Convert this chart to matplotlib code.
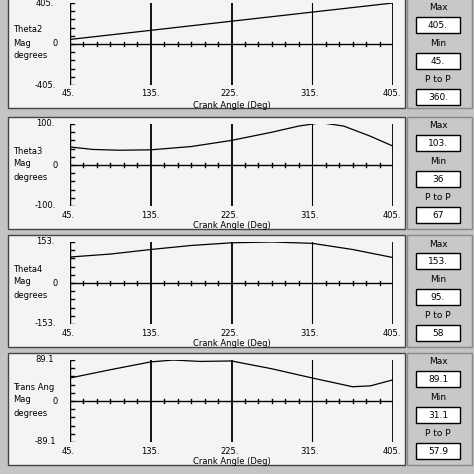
import numpy as np
import matplotlib
matplotlib.use("Agg")
import matplotlib.pyplot as plt
from matplotlib.patches import Rectangle

x_theta2 = [45, 405]
y_theta2 = [45, 405]
x_theta3 = [45, 70, 100, 135, 180, 225, 270, 300, 325, 350, 380, 405]
y_theta3 = [44, 38, 36, 37, 45, 60, 80, 95, 103, 95, 70, 46]
x_theta4 = [45, 90, 135, 180, 225, 270, 315, 360, 405]
y_theta4 = [97, 108, 125, 140, 150, 153, 148, 125, 95]
x_trans = [45, 90, 135, 160, 190, 225, 270, 315, 360, 380, 405]
y_trans = [50, 68, 85, 89, 86, 87, 70, 50, 31, 33, 46]

labels = [["Theta2", "Mag", "degrees"], ["Theta3", "Mag", "degrees"],
          ["Theta4", "Mag", "degrees"], ["Trans Ang", "Mag", "degrees"]]
limits = ["405.", "100.", "153.", "89.1"]
lim_vals = [405, 100, 153, 89.1]
stats = [["405.", "45.", "360."], ["103.", "36", "67"], ["153.", "95.", "58"], ["89.1", "31.1", "57.9"]]
xticklabels = ["45.", "135.", "225.", "315.", "405."]
series = [(x_theta2, y_theta2), (x_theta3, y_theta3), (x_theta4, y_theta4), (x_trans, y_trans)]

W = H = 474
fig = plt.figure(figsize=(4.74, 4.74), dpi=100)
fig.patch.set_facecolor("#c4c4c4")

def fx(p): return p / W
def fy(p): return 1 - p / H

tops = [-6, 115, 233, 351]
ph = 118
for i in range(4):
    t = tops[i]
    fig.patches.append(Rectangle((fx(8), fy(t + ph - 4)), fx(397), (ph - 6) / H,
                                 transform=fig.transFigure, facecolor="#f4f4f4",
                                 edgecolor="#444444", lw=1, zorder=-5))
    zero = t + 50
    half = 41
    ax = fig.add_axes([fx(70), fy(zero + half), fx(323), 2 * half / H])
    ax.set_xlim(45, 405)
    L = lim_vals[i]
    ax.set_ylim(-L, L)
    ax.axis("off")
    ax.plot([45, 405], [0, 0], color="black", lw=1)
    for xt in range(60, 405, 15):
        if xt % 90 != 45:
            ax.plot([xt, xt], [-0.06 * L, 0.06 * L], color="black", lw=1)
    ax.plot([45, 45], [-L, L], color="black", lw=1)
    for k in np.linspace(-L, L, 11):
        ax.plot([41, 49], [k, k], color="black", lw=1)
    for xv, lw in zip([135, 225, 315, 405], [1.3, 1.3, 0.8, 1.3]):
        ax.plot([xv, xv], [-L, L], color="black", lw=lw)
    xs, ys = series[i]
    ax.plot(xs, ys, color="black", lw=0.9)
    fig.text(fx(45), fy(zero - half), limits[i], ha="center", va="center", fontsize=6)
    fig.text(fx(55), fy(zero), "0", ha="center", va="center", fontsize=6)
    fig.text(fx(45), fy(zero + half), "-" + limits[i], ha="center", va="center", fontsize=6)
    for j, s in enumerate(labels[i]):
        fig.text(fx(13), fy(zero - 14 + j * 13), s, ha="left", va="center", fontsize=6)
    for xl, s in zip([68, 150, 230, 310, 392], xticklabels):
        fig.text(fx(xl), fy(zero + half + 9), s, ha="center", va="center", fontsize=6)
    fig.text(fx(232), fy(zero + half + 20), "Crank Angle (Deg)", ha="center", va="center", fontsize=6)
    fig.patches.append(Rectangle((fx(407), fy(t + ph - 4)), fx(65), (ph - 6) / H,
                                 transform=fig.transFigure, facecolor="#c8c8c8",
                                 edgecolor="#888888", lw=1, zorder=-5))
    for j, (name, val) in enumerate(zip(["Max", "Min", "P to P"], stats[i])):
        ly = t + (14 if i == 0 else 11) + j * 36
        fig.text(fx(438), fy(ly), name, ha="center", va="center", fontsize=6.5)
        fig.patches.append(Rectangle((fx(416), fy(ly + 25)), fx(44), 16 / H,
                                     transform=fig.transFigure, facecolor="white",
                                     edgecolor="black", lw=1, zorder=-4))
        fig.text(fx(438), fy(ly + 17), val, ha="center", va="center", fontsize=6.5)

fig.savefig("out.png", dpi=100, facecolor=fig.get_facecolor())
